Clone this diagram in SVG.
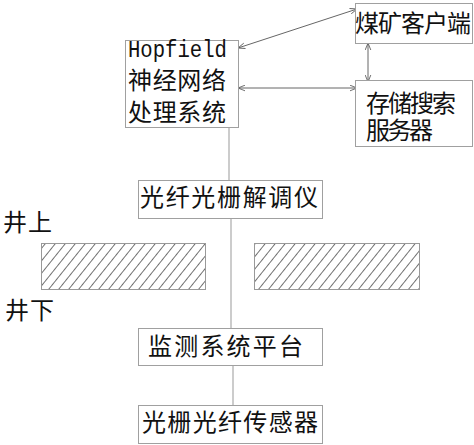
<svg xmlns="http://www.w3.org/2000/svg" width="474" height="445" viewBox="0 0 474 445">
<defs>
<style>
.box{fill:#fff;stroke:#a0a0a0;stroke-width:1}
.ln{fill:none;stroke:#999;stroke-width:1}
.ar{fill:none;stroke:#666;stroke-width:1;marker-start:url(#ah);marker-end:url(#ah)}
.t{font-family:"Noto Sans CJK SC","Noto Sans CJK JP",sans-serif;font-size:24px;fill:#111}
.m{font-family:"Liberation Mono",monospace;font-size:23px;fill:#111}
.hatch{fill:url(#hp);stroke:#999;stroke-width:1}
</style>
<marker id="ah" viewBox="0 0 10 10" refX="10" refY="5" markerWidth="7" markerHeight="7" orient="auto-start-reverse" markerUnits="userSpaceOnUse">
<path d="M0,1 L10,5 L0,9" fill="none" stroke="#555" stroke-width="1.2"/>
</marker>
<pattern id="hp" patternUnits="userSpaceOnUse" width="7.8" height="10" patternTransform="rotate(38.7)">
<line x1="0" y1="-1" x2="0" y2="11" stroke="#000" stroke-width="1.1"/>
</pattern>
</defs>
<g id="connectors">
<line class="ln" x1="229" y1="127" x2="229" y2="180"/>
<line class="ln" x1="231" y1="218" x2="231" y2="328"/>
<line class="ln" x1="233" y1="365" x2="233" y2="405"/>
<line class="ar" x1="238" y1="48" x2="357" y2="9"/>
<line class="ar" x1="238" y1="88" x2="357" y2="88"/>
<line class="ar" x1="368" y1="43" x2="368" y2="82"/>
</g>
<g id="hopfield">
<rect class="box" x="125.5" y="40.5" width="113" height="87"/>
<text class="m" x="128" y="57" textLength="99" lengthAdjust="spacingAndGlyphs">Hopfield</text>
<text class="t" x="128" y="89" textLength="98">神经网络</text>
<text class="t" x="128" y="121" textLength="98">处理系统</text>
</g>
<g id="client">
<rect class="box" x="355.5" y="3.5" width="117" height="40"/>
<text class="t" x="355" y="32" textLength="116">煤矿客户端</text>
</g>
<g id="storage">
<rect class="box" x="355.5" y="80.5" width="117" height="66"/>
<text class="t" x="366" y="112" textLength="90">存储搜索</text>
<text class="t" x="366" y="139" textLength="67">服务器</text>
</g>
<g id="demod">
<rect class="box" x="138.5" y="180.5" width="184" height="38"/>
<text class="t" x="140" y="206" textLength="178">光纤光栅解调仪</text>
</g>
<g id="ground">
<text class="t" x="3" y="231" textLength="49">井上</text>
<text class="t" x="5" y="319" textLength="49">井下</text>
<rect class="hatch" x="41.5" y="243.5" width="164" height="46"/>
<rect class="hatch" x="254.5" y="243.5" width="165" height="46"/>
</g>
<g id="monitor">
<rect class="box" x="138.5" y="328.5" width="184" height="37"/>
<text class="t" x="148" y="355" textLength="155">监测系统平台</text>
</g>
<g id="sensor">
<rect class="box" x="138.5" y="405.5" width="184" height="38"/>
<text class="t" x="142" y="431" textLength="176">光栅光纤传感器</text>
</g>
</svg>
